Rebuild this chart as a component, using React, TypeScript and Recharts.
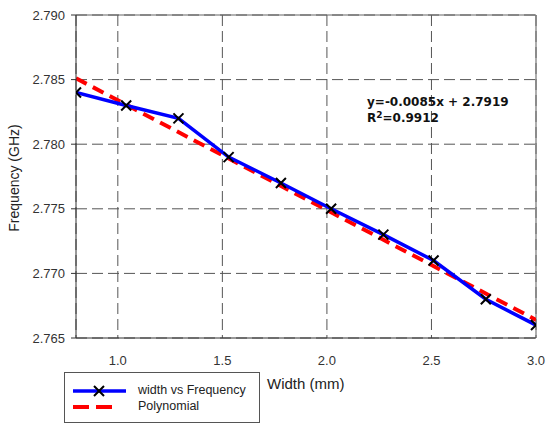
import { CartesianGrid, Line, LineChart, ReferenceLine, XAxis, YAxis } from "recharts";

const widthMm = [0.8, 1.04, 1.29, 1.53, 1.78, 2.02, 2.27, 2.51, 2.76, 3.0];
const frequencyGhz = [2.784, 2.783, 2.782, 2.779, 2.777, 2.775, 2.773, 2.771, 2.768, 2.766];
const fitWidth = [0.8, 3.0];
const fitFrequency = [2.7851, 2.7664];
const xTicks = [1.0, 1.5, 2.0, 2.5, 3.0];
const yTicks = [2.765, 2.77, 2.775, 2.78, 2.785, 2.79];

const measured = widthMm.map((w, i) => ({ w, f: frequencyGhz[i] }));
const fitted = fitWidth.map((w, i) => ({ w, f: fitFrequency[i] }));

const font = "'Liberation Sans', Arial, sans-serif";

function Cross(props: any) {
  const { cx, cy } = props;
  if (cx == null || cy == null) return null;
  const s = 5;
  return (
    <path
      d={`M${cx - s},${cy - s}L${cx + s},${cy + s}M${cx - s},${cy + s}L${cx + s},${cy - s}`}
      stroke="#000"
      strokeWidth={2}
      fill="none"
    />
  );
}

export default function App() {
  return (
    <div style={{ position: "absolute", left: 0, top: 0, width: 550, height: 426, background: "#fff", fontFamily: font }}>
      <LineChart width={550} height={426} margin={{ top: 15, right: 14, bottom: 58, left: 0 }}>
        <CartesianGrid stroke="#555" strokeDasharray="11 5" strokeWidth={1} />
        <XAxis
          type="number"
          dataKey="w"
          domain={[0.8, 3.0]}
          ticks={xTicks}
          tickFormatter={(v: number) => v.toFixed(1)}
          allowDataOverflow
          height={30}
          tickLine={false}
          tickMargin={12}
          axisLine={{ stroke: "#333" }}
          tick={{ fontSize: 13, fill: "#333", fontFamily: font }}
        />
        <YAxis
          type="number"
          dataKey="f"
          domain={[2.765, 2.79]}
          ticks={yTicks}
          tickFormatter={(v: number) => v.toFixed(3)}
          allowDataOverflow
          width={76}
          tickSize={5}
          tickMargin={6}
          axisLine={{ stroke: "#333" }}
          tickLine={{ stroke: "#333" }}
          tick={{ fontSize: 13, fill: "#333", fontFamily: font }}
        />
        <ReferenceLine y={2.79} stroke="#666" strokeWidth={1.2} />
        <ReferenceLine x={3.0} stroke="#777" strokeWidth={1.2} />
        <Line
          data={fitted}
          dataKey="f"
          type="linear"
          stroke="#ff0000"
          strokeWidth={4}
          strokeDasharray="12 7"
          dot={false}
          isAnimationActive={false}
        />
        <Line
          data={measured}
          dataKey="f"
          type="linear"
          stroke="#0000ff"
          strokeWidth={3.5}
          dot={<Cross />}
          isAnimationActive={false}
        />
      </LineChart>

      <div
        style={{
          position: "absolute",
          left: 14,
          top: 178,
          transform: "translate(-50%,-50%) rotate(-90deg)",
          whiteSpace: "nowrap",
          fontSize: 14,
          color: "#222",
        }}
      >
        Frequency (GHz)
      </div>

      <div style={{ position: "absolute", left: 267, top: 375, fontSize: 15, color: "#222", whiteSpace: "nowrap" }}>
        Width (mm)
      </div>

      <div
        style={{
          position: "absolute",
          left: 367,
          top: 94,
          fontSize: 12,
          fontWeight: "bold",
          lineHeight: "16px",
          color: "#111",
          fontFamily: "'DejaVu Sans', Verdana, sans-serif",
          whiteSpace: "nowrap",
        }}
      >
        <div>y=-0.0085x + 2.7919</div>
        <div>
          R<span style={{ fontSize: 9, position: "relative", top: -4 }}>2</span>=0.9912
        </div>
      </div>

      <div
        style={{
          position: "absolute",
          left: 64,
          top: 372,
          width: 194,
          height: 49,
          border: "1px solid #555",
          fontSize: 12.5,
          color: "#222",
        }}
      >
        <svg width={70} height={49} style={{ position: "absolute", left: 0, top: 0 }}>
          <line x1={8} y1={18} x2={61} y2={18} stroke="#0000ff" strokeWidth={3.5} />
          <path d="M29,13L39,23M29,23L39,13" stroke="#000" strokeWidth={2} />
          <line x1={8} y1={34} x2={54} y2={34} stroke="#ff0000" strokeWidth={4} strokeDasharray="16 7" />
        </svg>
        <div style={{ position: "absolute", left: 73, top: 10, whiteSpace: "nowrap" }}>width vs Frequency</div>
        <div style={{ position: "absolute", left: 73, top: 26, whiteSpace: "nowrap" }}>Polynomial</div>
      </div>
    </div>
  );
}
